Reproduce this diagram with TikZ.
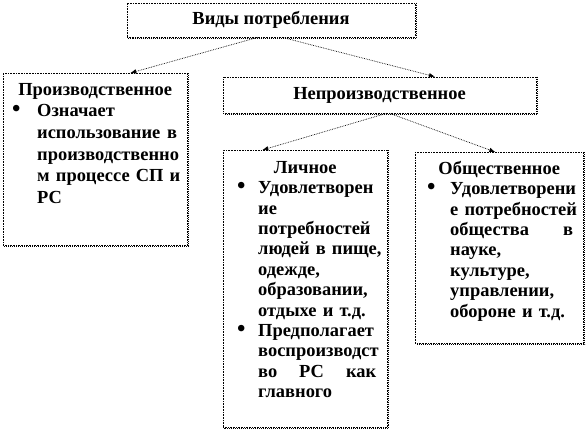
\documentclass[tikz,border=0pt]{standalone}
\usepackage{fontspec}
\setmainfont{Liberation Serif}
\usetikzlibrary{arrows.meta,calc}

\newcommand{\jl}[1]{\hbox to\hsize{#1}}
\newcommand{\punkt}[4]{\par\noindent\hspace*{#1}\makebox[#2][l]{\scalebox{1.3}{\textbullet}}%
	\parbox[t]{#3}{\baselineskip=\zeile #4\strut}\par\prevdepth=\dp\strutbox}
\newlength{\zeile}

\begin{document}
\begin{tikzpicture}[>={Latex[length=6bp,width=4.5bp]},x=1bp,y=-1bp,
	kasten/.style={draw,densely dotted,fill=white,inner sep=0pt,line width=0.6bp},
	inhalt/.style={inner sep=0pt,align=left,font={\fontsize{18.5}{20.4}\selectfont\bfseries}},
	pfeil/.style={->,densely dotted,line width=0.7bp}]

\useasboundingbox[fill=white] (0,0) rectangle (586,431);

%
% Kästen
%
\node[kasten,inhalt,minimum width=288bp,minimum height=34bp] (arten) at (271,20) {Виды потребления};
\node[kasten,inhalt,minimum width=313bp,minimum height=36bp] (nprod) at (379.5,95) {Непроизводственное};
\node[kasten,minimum width=184bp,minimum height=172bp,anchor=north west] (prod) at (3,73) {};
\node[kasten,minimum width=164bp,minimum height=277bp,anchor=north west] (lich) at (223,150) {};
\node[kasten,minimum width=168bp,minimum height=191bp,anchor=north west] (obsh) at (415,152) {};

\foreach \n in {arten,nprod,prod,lich,obsh}{
	\draw[densely dotted,line width=1bp]
		([xshift=1bp]\n.north east) -- ([shift={(1bp,-1bp)}]\n.south east)
		-- ([shift={(1bp,-1bp)}]\n.south west);
}

%
% Texte
%
\node[inhalt,text width=184bp,anchor=north west,
	font={\fontsize{18.5}{21.7}\selectfont\bfseries\setlength{\zeile}{21.7bp}}] (prod-text)
	at ([yshift=-10bp]prod.north west) {
	\centerline{Производственное}
	\punkt{9bp}{25bp}{140bp}{Означает\\ \jl{использование \hfill в}\\
		производственно\\ \jl{м \hfill процессе \hfill СП \hfill и}\\ РС}
};

\node[inhalt,text width=164bp,anchor=north west,
	font={\fontsize{18.5}{20.4}\selectfont\bfseries\setlength{\zeile}{20.4bp}}] (lich-text)
	at ([yshift=-11bp]lich.north west) {
	\centerline{Личное}
	\punkt{14bp}{21bp}{118bp}{Удовлетворен\\ ие\\ потребностей\\
		\jl{людей \hfill в \hfill пище,}\\ одежде,\\ образовании,\\ отдыхе и т.д.}
	\punkt{14bp}{21bp}{118bp}{Предполагает\\ воспроизводст\\
		\jl{во \hfill РС \hfill как}\\ главного}
};

\node[inhalt,text width=168bp,anchor=north west,
	font={\fontsize{18.5}{20.4}\selectfont\bfseries\setlength{\zeile}{20.4bp}}] (obsh-text)
	at ([yshift=-9bp]obsh.north west) {
	\centerline{Общественное}
	\punkt{12bp}{23bp}{123bp}{Удовлетворени\\ \jl{е \hfill потребностей}\\
		\jl{общества \hfill в}\\ науке,\\ культуре,\\ управлении,\\ обороне и т.д.}
};

%
% Pfeile
%
\draw[pfeil] ([xshift=-13bp]arten.south) -- ([xshift=35bp]prod.north);
\draw[pfeil] ([xshift=11bp]arten.south) -- ([xshift=55.5bp]nprod.north);
\draw[pfeil] ([xshift=7bp]nprod.south) -- ([xshift=-43bp]lich.north);
\draw[pfeil] ([xshift=10bp]nprod.south) -- ([xshift=-4bp]obsh.north);

\end{tikzpicture}
\end{document}
